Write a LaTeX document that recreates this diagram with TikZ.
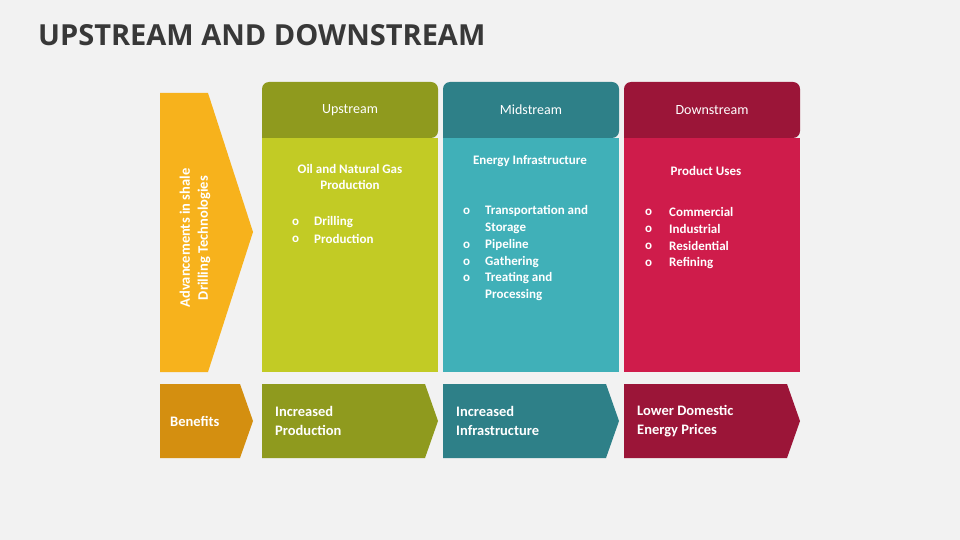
\documentclass[tikz,border=0pt]{standalone}
\usepackage{fontspec}
\setmainfont{Carlito}
\newfontfamily\titlefont{Open Sans}
\begin{document}
\begin{tikzpicture}[x=1pt,y=-1pt,
  txt/.style={text=white,font=\fontsize{13}{16}\selectfont\bfseries},
  hdr/.style={text=white,font=\fontsize{14}{17}\selectfont},
  bul/.style={text=white,font=\fontsize{13}{16}\selectfont\bfseries,anchor=west,inner sep=0},
  ben/.style={text=white,font=\fontsize{14.5}{19}\selectfont\bfseries,anchor=west,align=left,inner sep=0}]
\definecolor{bg}{HTML}{F2F2F2}
\definecolor{amb}{HTML}{F7B21C}
\definecolor{ambd}{HTML}{D48F10}
\definecolor{olh}{HTML}{8F9A1E}
\definecolor{olb}{HTML}{C2CB25}
\definecolor{teh}{HTML}{2E8088}
\definecolor{teb}{HTML}{40B0B8}
\definecolor{reh}{HTML}{9B1538}
\definecolor{reb}{HTML}{CF1C4B}
\fill[bg] (0,0) rectangle (960,540);
\useasboundingbox (0,0) rectangle (960,540);
\node[anchor=west,inner sep=0,text=black!78,font=\titlefont\fontsize{29}{32}\selectfont\bfseries] (title) at (38,35) {UPSTREAM AND DOWNSTREAM};
% left arrow
\fill[amb] (160,93) -- (208,93) -- (253,232) -- (208,372) -- (160,372) -- cycle;
\node[txt,rotate=90,align=center,font=\fontsize{14.5}{18}\selectfont\bfseries] (adv) at (195,238) {Advancements in shale\\Drilling Technologies};
% columns
\foreach \x/\h/\b/\n in {262/olh/olb/Upstream,443/teh/teb/Midstream,624/reh/reb/Downstream}{
  \fill[\b] (\x,138) rectangle (\x+176,372);
  \fill[\h,rounded corners=7pt] (\x,138) -- (\x,82) -- (\x+176,82) -- (\x+176,138) [sharp corners]-- cycle;
  \node[hdr] at (\x+88,110) {\n};
}
\node[txt,align=center] (up) at (350,177) {Oil and Natural Gas\\Production};
\foreach \y/\t in {222/Drilling,239/Production}{\node[bul] at (292,\y) {o}; \node[bul] at (314,\y) {\t};}
\node[txt] (mid) at (530,161) {Energy Infrastructure};
\foreach \y/\t/\o in {211/Transportation and/o,228/Storage/,245/Pipeline/o,262/Gathering/o,278/Treating and/o,295/Processing/}{\node[bul] at (463,\y) {\o}; \node[bul] at (485,\y) {\t};}
\node[txt] (down) at (706,171) {Product Uses};
\foreach \y/\t in {212/Commercial,229/Industrial,246/Residential,263/Refining}{\node[bul] at (645,\y) {o}; \node[bul] at (669,\y) {\t};}
% bottom row
\fill[ambd] (160,384) -- (240,384) -- (253,421) -- (240,458) -- (160,458) -- cycle;
\node[ben] (b0) at (170,421) {Benefits};
\foreach \x/\c/\t in {262/olh/{Increased\\Production},443/teh/{Increased\\Infrastructure},624/reh/{Lower Domestic\\Energy Prices}}{
  \fill[\c] (\x,384) -- (\x+163,384) -- (\x+176,421) -- (\x+163,458) -- (\x,458) -- cycle;
  \node[ben] at (\x+13,421) {\t};
}
\end{tikzpicture}
\end{document}
